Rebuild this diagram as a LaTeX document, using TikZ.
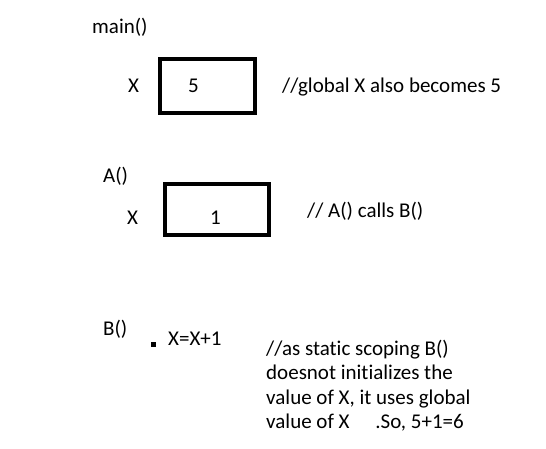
\documentclass[tikz,border=0pt]{standalone}
\usepackage{fontspec}
\setmainfont{Carlito}[Ligatures=NoCommon]
\usepackage{tikz}

\begin{document}
\begin{tikzpicture}[x=1pt,y=-1pt,
	txt/.style={anchor=base west, inner sep=0pt, font=\fontsize{21}{24.4}\selectfont},
	cell/.style={draw, line width=4pt, inner sep=0pt}]
	\useasboundingbox (0,0) rectangle (546,448);
	
	% main()
	\node[txt] (main) at (92,33) {main()};
	\node[txt] (mainx) at (128,92) {X};
	\node[cell, minimum width=95pt, minimum height=54pt] (mainbox) at (207.5,86) {};
	\node[txt] (mainval) at (188,92) {5};
	\node[txt] (maincom) at (282,92) {//global X also becomes 5};
	
	% A()
	\node[txt] (fa) at (103,182) {A()};
	\node[txt] (fax) at (127,224) {X};
	\node[cell, minimum width=104pt, minimum height=51pt] (abox) at (217,209.5) {};
	\node[txt] (aval) at (210,224) {1};
	\node[txt] (acom) at (307,217) {// A() calls B()};
	
	% B()
	\node[txt] (fb) at (103,335) {B()};
	\node[fill, minimum size=5pt, inner sep=0pt] (bdot) at (153.5,344.5) {};
	\node[txt] (bstmt) at (168,345) {X=X+1};
	\node[txt, anchor=north west, align=left] (bcom) at (266,340)
		{//as static scoping B()\\doesnot initializes the\\value of X, it uses global\\value of X\quad\ .So, 5+1=6};
\end{tikzpicture}
\end{document}
